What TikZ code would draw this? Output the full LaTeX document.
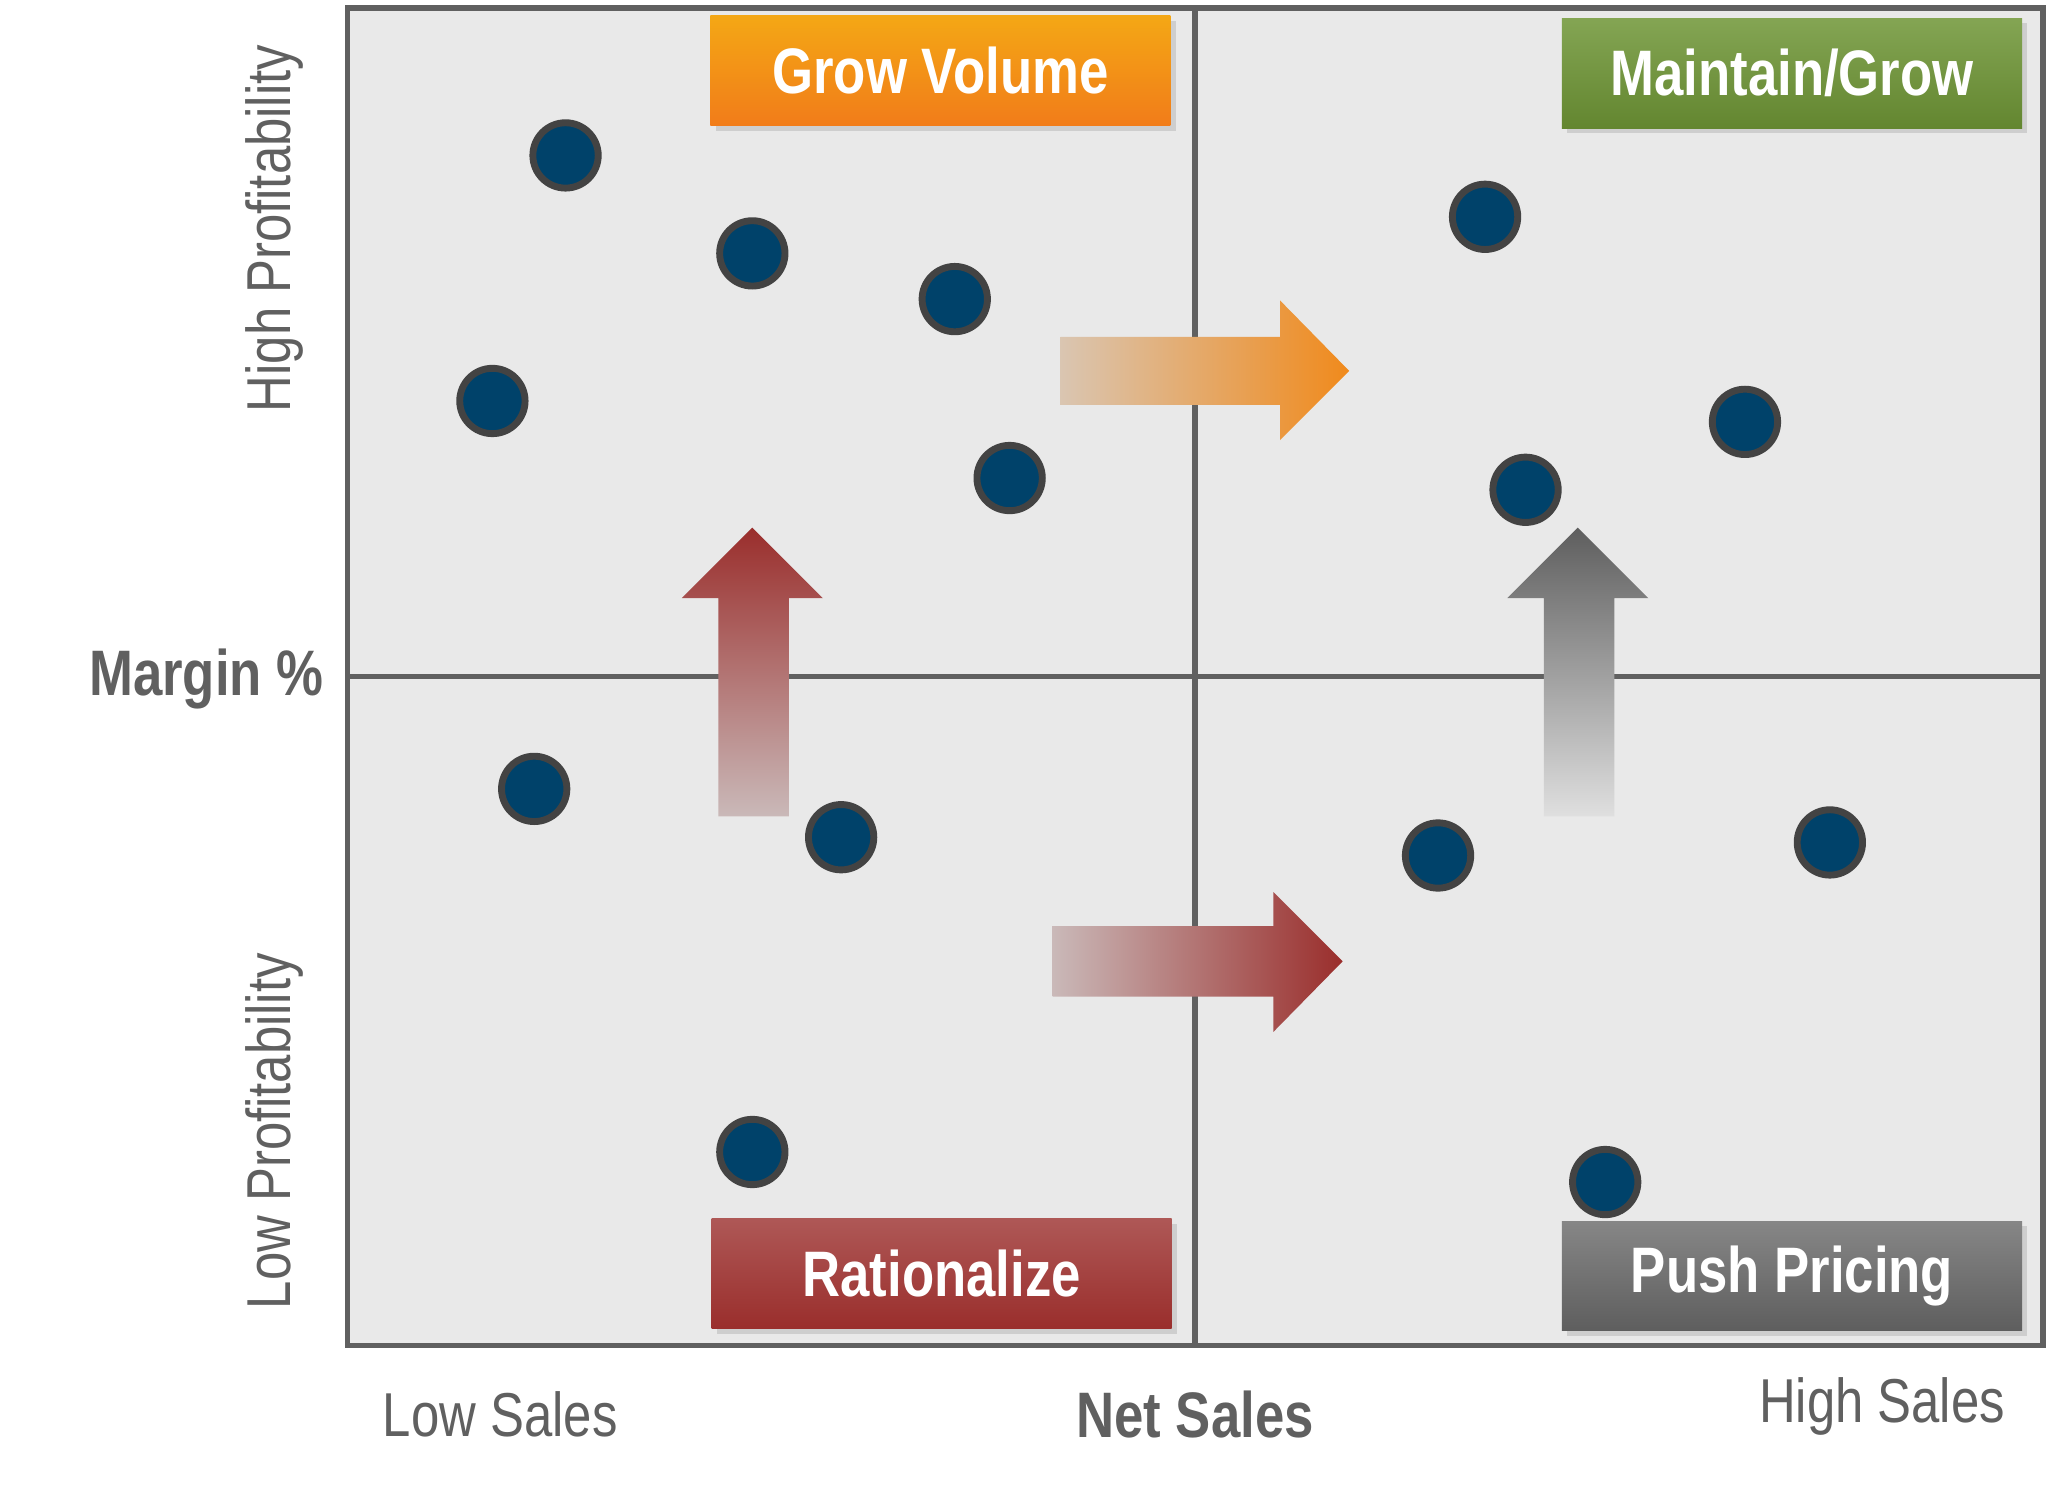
\documentclass[tikz,border=0pt]{standalone}
\usepackage{fontspec}
\setmainfont{Liberation Sans}
\usetikzlibrary{positioning, shapes, arrows, shadows}
\definecolor{dotblue}{HTML}{00426A}
\definecolor{axisgray}{HTML}{606060}
\definecolor{plotbg}{HTML}{E9E9E9}
\definecolor{grow}{HTML}{F08A1C}
\definecolor{keep}{HTML}{6E9535}
\definecolor{cut}{HTML}{9A2E2C}
\definecolor{push}{HTML}{5E5E5E}
\newcommand{\narrow}[1]{\scalebox{0.82}[1]{#1}}
\tikzset{
  dot/.style={circle, draw=axisgray!70!black, fill=dotblue, line width=1.5pt, minimum size=0.5cm, inner sep=0pt},
  quadbox/.style={rectangle, minimum width=3.52cm, minimum height=0.84cm, text=white,
    font=\bfseries\fontsize{14}{16}\selectfont,
    drop shadow={opacity=0.25, shadow xshift=0.04cm, shadow yshift=-0.04cm}},
  axislabel/.style={text=axisgray, font=\fontsize{13.5}{15}\selectfont},
}
\begin{document}
\begin{tikzpicture}[x=0.01cm, y=-0.01cm]
\useasboundingbox (0,0) rectangle (1568,1140);
\fill[plotbg] (266,6) rectangle (1564,1030);
\draw[axisgray, line width=1.2pt] (266,6) rectangle (1564,1030);
\draw[axisgray, line width=1.2pt] (915,6) -- (915,1030);
\draw[axisgray, line width=1.2pt] (266,518) -- (1564,518);
% arrows
\shade[left color=orange!35!gray!45, middle color=grow, right color=grow]
  (812,258) -- (980,258) -- (980,230) -- (1033,284) -- (980,337) -- (980,310) -- (812,310) -- cycle;
\shade[left color=cut!35!gray!45, middle color=cut, right color=cut]
  (806,709) -- (975,709) -- (975,683) -- (1028,736) -- (975,790) -- (975,763) -- (806,763) -- cycle;
\shade[bottom color=cut!35!gray!45, middle color=cut, top color=cut]
  (550,625) -- (550,458) -- (522,458) -- (576,404) -- (630,458) -- (604,458) -- (604,625) -- cycle;
\shade[bottom color=gray!25, middle color=push, top color=push]
  (1182,625) -- (1182,458) -- (1154,458) -- (1208,404) -- (1262,458) -- (1236,458) -- (1236,625) -- cycle;
% dots
\foreach \px/\py [count=\i] in {433/119, 576/194, 731/229, 377/307, 773/366, 1137/166, 1336/323,
  1168/375, 409/604, 644/641, 1101/655, 1401/645, 576/882, 1229/905}
  \node[dot] (d\i) at (\px,\py) {};
% quadrant boxes
\node[quadbox, top color=grow!75!yellow, bottom color=grow!90!red] (growbox) at (720,54) {\narrow{Grow Volume}};
\node[quadbox, top color=keep!85!white, bottom color=keep!90!black] (keepbox) at (1372,56) {\narrow{Maintain/Grow}};
\node[quadbox, top color=cut!80!white, bottom color=cut] (cutbox) at (721,975) {\narrow{Rationalize}};
\node[quadbox, top color=push!75!white, bottom color=push] (pushbox) at (1372,977) {\narrow{Push Pricing}};
% axis labels
\node[axislabel, rotate=90] (highp) at (210,175) {\narrow{High Profitability}};
\node[axislabel, rotate=90] (lowp) at (210,866) {\narrow{Low Profitability}};
\node[axislabel, font=\bfseries\fontsize{14}{16}\selectfont] (margin) at (158,520) {\narrow{Margin \%}};
\node[axislabel] (lows) at (383,1083) {\narrow{Low Sales}};
\node[axislabel, font=\bfseries\fontsize{14}{16}\selectfont] (nets) at (915,1083) {\narrow{Net Sales}};
\node[axislabel] (highs) at (1441,1077) {\narrow{High Sales}};
\end{tikzpicture}
\end{document}
